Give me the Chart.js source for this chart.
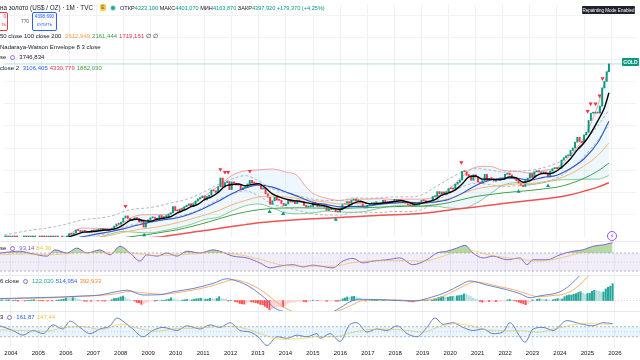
<!DOCTYPE html>
<html lang="ru">
<head>
<meta charset="utf-8">
<title>Золото 1M</title>
<script src="https://cdn.jsdelivr.net/npm/chart.js@4.4.1/dist/chart.umd.min.js"></script>
<style>
  body { margin: 0; background: #fff; }
  #wrap { position: relative; width: 640px; height: 360px; overflow: hidden; font-family: "Liberation Sans", Arial, sans-serif; color: #131722; }
  canvas { position: absolute; left: 0; }
  .t { position: absolute; white-space: nowrap; line-height: 8px; font-size: 6px; }
  .t span { margin-left: 2px; }
  .sep { position: absolute; left: 0; width: 640px; height: 1px; background: #e6e9ef; }
  .ico { display: inline-block; width: 3px; height: 3px; border: 1.2px solid #9c6ade; border-radius: 50%; vertical-align: -0.5px; margin: 0 2px 0 4px !important; }
  .box { position: absolute; border-radius: 2px; text-align: center; }
</style>
</head>
<body>
<div id="wrap">
  <canvas id="mainChart" width="640" height="241" style="top:0"></canvas>
  <canvas id="rsiChart" width="640" height="34" style="top:241px"></canvas>
  <canvas id="macdChart" width="640" height="36" style="top:275px"></canvas>
  <canvas id="cciChart" width="640" height="49" style="top:311px"></canvas>

  <div class="sep" style="top:241px"></div>
  <div class="sep" style="top:275px"></div>
  <div class="sep" style="top:311px"></div>

  <!-- header / legends -->
  <div class="t" style="left:0;top:4px;font-size:6.3px">на золото (US$ / OZ) · 1M · TVC</div>
  <div class="box" style="left:100px;top:4px;width:6px;height:7px;background:#f7cc4a;font-size:5px;line-height:7px;color:#6b5a12">E</div>
  <div class="box" style="left:111px;top:6px;width:4px;height:4px;border-radius:50%;background:#22ab94;box-shadow:0 0 0 1px #bfe8df"></div>
  <div class="t" style="left:120px;top:4px;font-size:5.6px">ОТКР<b style="font-weight:normal;color:#089981">4223,100</b> МАКС<b style="font-weight:normal;color:#089981">4401,070</b> МИН<b style="font-weight:normal;color:#089981">4163,870</b> ЗАКР<b style="font-weight:normal;color:#089981">4397,920</b> <b style="font-weight:normal;color:#089981">+179,370 (+4,25%)</b></div>

  <div class="box" style="left:-10px;top:12px;width:15px;height:17px;border:1px solid #f23645;color:#f23645;font-size:4.6px;line-height:8px;text-align:right;padding-right:1px">0<br>ть</div>
  <div class="t" style="left:21px;top:18px;font-size:4.8px;color:#50535e">770</div>
  <div class="box" style="left:32px;top:12px;width:23px;height:17px;border:1px solid #2962ff;color:#2962ff;font-size:4.6px;line-height:8px">4398,690<br><span style="font-size:4px">КУПИТЬ</span></div>

  <div class="t" style="left:0;top:32px">50 close 100 close 200 <span style="color:#f5a34b">2612,949</span><span style="color:#43a047">2161,444</span><span style="color:#f23645">1719,151</span><span>∅</span><span>∅</span></div>
  <div class="t" style="left:0;top:43px">Nadaraya-Watson Envelope 8 3 close</div>
  <div class="t" style="left:0;top:53px">se<span class="ico"></span><span>3746,834</span></div>
  <div class="t" style="left:0;top:64px">close 2 <span style="color:#2962ff">3106,405</span><span style="color:#f23645">4330,779</span><span style="color:#43a047">1882,030</span></div>

  <div class="box" style="left:582px;top:6px;width:53px;height:8px;background:#1e222d;color:#fff;line-height:8px;overflow:hidden;border-radius:1px">
    <div style="font-size:9px;transform:scale(0.5);transform-origin:0 0;width:106px;line-height:16px;white-space:nowrap">Repainting Mode Enabled</div>
  </div>
  <div class="box" style="left:622px;top:58px;width:17px;height:8px;background:#089981;color:#fff;overflow:hidden;border-radius:1px">
    <div style="font-size:10px;font-weight:bold;transform:scale(0.5);transform-origin:0 0;width:34px;line-height:16px">GOLD</div>
  </div>
  <div class="box" style="left:607px;top:231px;width:8px;height:8px;border:1px solid #9c4fd6;border-radius:50%;color:#9c4fd6;font-size:6px;line-height:8px;font-family:'DejaVu Sans'">⚡</div>

  <div class="t" style="left:0;top:244px">se<span class="ico"></span><span style="color:#7e57c2">93,14</span><span style="color:#e8c547">84,30</span></div>
  <div class="t" style="left:0;top:277px">6 close<span class="ico"></span><span style="color:#26a69a">122,020</span><span style="color:#2962ff">514,954</span><span style="color:#ff8c33">392,933</span></div>
  <div class="t" style="left:0;top:313px">3<span class="ico"></span><span style="color:#2962ff">161,87</span><span style="color:#e8c547">147,44</span></div>
</div>

<script>
// time window (decimal years) and tick labels
const xMin = 2003.6;
const xMax = 2026.915;
const yearTicks = [2004, 2005, 2006, 2007, 2008, 2009, 2010, 2011, 2012, 2013, 2014, 2015,
                   2016, 2017, 2018, 2019, 2020, 2021, 2022, 2023, 2024, 2025, 2026];
const priceTicks = [1000, 1500, 2000, 2500, 3000, 3500, 4000, 4500, 5000, 5500];
const firstMonth = 2003 + 7 / 12; // Aug 2003

// monthly closes, Aug 2003 .. Dec 2025
const closes = [
  375, 385, 384, 398, 416,
  400, 396, 427, 387, 394, 395, 391, 407, 416, 429, 453, 438,
  422, 435, 428, 436, 417, 435, 430, 433, 473, 470, 495, 517,
  569, 556, 582, 654, 643, 614, 633, 624, 598, 604, 647, 632,
  650, 665, 662, 679, 659, 650, 665, 673, 743, 789, 783, 834,
  923, 972, 916, 864, 886, 930, 912, 832, 880, 718, 814, 882,
  928, 942, 916, 884, 979, 927, 955, 955, 1008, 1040, 1181, 1096,
  1081, 1118, 1113, 1179, 1212, 1244, 1181, 1247, 1307, 1357, 1386, 1421,
  1333, 1410, 1439, 1556, 1536, 1500, 1628, 1826, 1620, 1722, 1746, 1565,
  1737, 1711, 1669, 1664, 1561, 1604, 1614, 1692, 1772, 1719, 1713, 1675,
  1664, 1578, 1596, 1472, 1393, 1234, 1312, 1395, 1327, 1323, 1253, 1202,
  1240, 1326, 1284, 1296, 1250, 1327, 1282, 1287, 1210, 1171, 1183, 1184,
  1283, 1213, 1183, 1184, 1190, 1172, 1095, 1133, 1115, 1142, 1065, 1061,
  1118, 1238, 1234, 1294, 1215, 1322, 1351, 1309, 1316, 1276, 1173, 1151,
  1211, 1249, 1249, 1268, 1268, 1242, 1269, 1322, 1280, 1271, 1275, 1303,
  1345, 1318, 1325, 1315, 1299, 1253, 1224, 1201, 1192, 1215, 1222, 1282,
  1321, 1313, 1292, 1284, 1305, 1409, 1413, 1520, 1472, 1513, 1464, 1517,
  1589, 1585, 1577, 1687, 1730, 1781, 1975, 1968, 1886, 1879, 1776, 1898,
  1847, 1734, 1708, 1769, 1907, 1770, 1814, 1813, 1757, 1783, 1774, 1829,
  1797, 1909, 1937, 1897, 1837, 1807, 1766, 1711, 1660, 1633, 1768, 1824,
  1928, 1837, 1969, 1990, 1963, 1919, 1965, 1940, 1849, 1983, 2036, 2063,
  2039, 2044, 2230, 2286, 2327, 2327, 2448, 2503, 2635, 2744, 2651, 2625,
  2798, 2858, 3124, 3289, 3289, 3303, 3290, 3448, 3858, 4003, 4223, 4398
];
const firstOpen = 372;
const lastClose = 4397.92;

// overlay lines: [year, price]
const fastLine = [[2005.5,430],[2005.75,455],[2006,500],[2006.25,550],[2006.5,600],[2006.75,615],[2007,625],[2007.25,648],[2007.5,660],[2007.75,690],[2008,770],[2008.25,870],[2008.5,895],[2008.75,865],[2009,850],[2009.25,895],[2009.5,920],[2009.75,955],[2010,1040],[2010.25,1100],[2010.5,1180],[2010.75,1230],[2011,1340],[2011.25,1400],[2011.5,1500],[2011.75,1640],[2012,1680],[2012.25,1690],[2012.5,1650],[2012.75,1680],[2013,1700],[2013.25,1600],[2013.5,1470],[2013.75,1400],[2014,1350],[2014.25,1320],[2014.5,1300],[2014.75,1270],[2015,1240],[2015.25,1220],[2015.5,1190],[2015.75,1140],[2016,1115],[2016.25,1180],[2016.5,1260],[2016.75,1300],[2017,1255],[2017.25,1240],[2017.5,1255],[2017.75,1275],[2018,1295],[2018.25,1315],[2018.5,1285],[2018.75,1235],[2019,1255],[2019.25,1295],[2019.5,1340],[2019.75,1440],[2020,1490],[2020.25,1560],[2020.5,1690],[2020.75,1850],[2021,1870],[2021.25,1800],[2021.5,1800],[2021.75,1790],[2022,1795],[2022.25,1850],[2022.5,1830],[2022.75,1730],[2023,1760],[2023.25,1880],[2023.5,1930],[2023.75,1925],[2024,1990],[2024.25,2110],[2024.5,2260],[2024.75,2460],[2025,2620],[2025.25,2840],[2025.5,3110],[2025.75,3410],[2025.917,3747]];
const bbBasis = [[2005.5,420],[2006,450],[2006.5,500],[2007,560],[2007.5,615],[2008,680],[2008.5,760],[2009,835],[2009.5,885],[2010,930],[2010.5,1020],[2011,1150],[2011.5,1300],[2012,1470],[2012.5,1600],[2013,1670],[2013.5,1620],[2014,1510],[2014.5,1400],[2015,1275],[2015.5,1230],[2016,1175],[2016.5,1185],[2017,1195],[2017.5,1235],[2018,1265],[2018.5,1280],[2019,1265],[2019.5,1285],[2020,1340],[2020.5,1480],[2021,1660],[2021.5,1770],[2022,1820],[2022.5,1820],[2023,1780],[2023.5,1840],[2024,1890],[2024.5,2040],[2025,2260],[2025.5,2620],[2025.917,3106]];
const bbUpper = [[2006,560],[2006.5,700],[2007,690],[2007.5,690],[2008,820],[2008.5,980],[2009,1000],[2009.5,1000],[2010,1110],[2010.5,1240],[2011,1420],[2011.5,1640],[2012,1880],[2012.5,1990],[2013,2010],[2013.5,2030],[2014,1960],[2014.4,1890],[2014.75,1620],[2015,1480],[2015.5,1370],[2016,1320],[2016.5,1350],[2017,1350],[2017.5,1360],[2018,1340],[2018.5,1350],[2019,1350],[2019.5,1400],[2020,1560],[2020.5,1860],[2021,2070],[2021.5,2090],[2022,2000],[2022.5,1980],[2023,1940],[2023.5,2000],[2024,2060],[2024.5,2350],[2025,2750],[2025.5,3450],[2025.917,4331]];
const bbLower = [[2006,380],[2006.5,440],[2007,470],[2007.5,560],[2008,620],[2008.5,600],[2009,590],[2009.5,640],[2010,700],[2010.5,780],[2011,890],[2011.5,940],[2012,1080],[2012.5,1200],[2012.75,1230],[2013,1240],[2013.5,1150],[2014,1040],[2014.5,1020],[2015,1040],[2015.5,1080],[2016,1060],[2016.5,1050],[2017,1080],[2017.5,1150],[2018,1200],[2018.5,1210],[2019,1180],[2019.5,1190],[2020,1150],[2020.5,1140],[2021,1250],[2021.5,1450],[2022,1660],[2022.5,1720],[2023,1680],[2023.5,1720],[2024,1780],[2024.5,1790],[2025,1800],[2025.5,1800],[2025.917,1882]];
const ema50 = [[2007,480],[2007.5,530],[2008,600],[2008.5,660],[2009,700],[2009.5,750],[2010,820],[2010.5,900],[2011,990],[2011.5,1090],[2012,1220],[2012.5,1320],[2013,1400],[2013.5,1420],[2014,1400],[2014.5,1360],[2015,1320],[2015.5,1280],[2016,1240],[2016.5,1250],[2017,1250],[2017.5,1250],[2018,1255],[2018.5,1260],[2019,1255],[2019.5,1290],[2020,1360],[2020.5,1470],[2021,1580],[2021.5,1630],[2022,1665],[2022.5,1690],[2023,1700],[2023.5,1740],[2024,1800],[2024.5,1920],[2025,2100],[2025.5,2330],[2025.917,2613]];
const ema100 = [[2008,480],[2008.5,520],[2009,560],[2009.5,610],[2010,660],[2010.5,730],[2011,810],[2011.5,900],[2012,990],[2012.5,1060],[2013,1110],[2013.5,1140],[2014,1150],[2014.5,1155],[2015,1150],[2015.5,1145],[2016,1140],[2016.5,1150],[2017,1160],[2017.5,1170],[2018,1180],[2018.5,1190],[2019,1195],[2019.5,1220],[2020,1270],[2020.5,1340],[2021,1410],[2021.5,1450],[2022,1490],[2022.5,1520],[2023,1545],[2023.5,1580],[2024,1620],[2024.5,1700],[2025,1820],[2025.5,1980],[2025.917,2161]];
const ema200 = [[2009,480],[2009.5,510],[2010,555],[2010.5,600],[2011,640],[2011.5,690],[2012,735],[2012.5,775],[2013,815],[2013.5,845],[2014,870],[2014.5,890],[2015,905],[2015.5,920],[2016,935],[2016.5,955],[2017,970],[2017.5,985],[2018,995],[2018.5,1010],[2019,1025],[2019.5,1060],[2020,1100],[2020.5,1140],[2021,1175],[2021.5,1210],[2022,1250],[2022.5,1285],[2023,1320],[2023.5,1355],[2024,1390],[2024.5,1450],[2025,1530],[2025.5,1620],[2025.917,1719]];
const nwUpper = [[2003.6,540],[2004.5,640],[2005.5,730],[2006.5,880],[2007.5,960],[2008.25,1110],[2009,1160],[2009.75,1260],[2010.5,1380],[2011,1520],[2011.5,1680],[2012,1800],[2012.5,1880],[2013,1760],[2013.5,1580],[2014,1500],[2014.5,1420],[2015,1350],[2015.5,1320],[2016,1320],[2016.5,1380],[2017,1370],[2017.5,1380],[2018,1400],[2018.5,1400],[2019,1440],[2019.5,1620],[2020,1800],[2020.5,1960],[2021,2040],[2021.5,2010],[2022,1960],[2022.5,1980],[2023,2000],[2023.5,2060],[2024,2160],[2024.5,2350],[2025,2640],[2025.5,3000],[2025.917,3360]];
const nwLower = [[2006.5,420],[2007,510],[2007.5,600],[2008.25,760],[2009,820],[2009.75,920],[2010.5,1040],[2011,1180],[2011.5,1340],[2012,1460],[2012.5,1540],[2013,1420],[2013.5,1240],[2014,1160],[2014.5,1090],[2015,1020],[2015.5,990],[2016,990],[2016.5,1050],[2017,1040],[2017.5,1050],[2018,1070],[2018.5,1070],[2019,1110],[2019.5,1290],[2020,1470],[2020.5,1630],[2021,1710],[2021.5,1680],[2022,1630],[2022.5,1650],[2023,1670],[2023.5,1730],[2024,1830],[2024.5,2020],[2025,2310],[2025.5,2670],[2025.917,3030]];
const sellSignals = [[2008.08,1190],[2011.58,2020],[2011.75,1960],[2011.87,1960],[2012.67,1980],[2020.47,2175],[2025.13,3330],[2025.24,3500],[2025.42,3500],[2025.57,3680],[2025.68,4070]];
const buySignals = [[2008.77,540],[2013.4,1065],[2013.9,1020],[2015.84,890],[2022.58,1520],[2023.67,1650]];

// RSI
const rsiBands = [70, 50, 30];
const rsiLine = [[2003.6,70],[2004.33,74],[2004.8,68],[2005.31,63],[2005.6,77],[2006.04,70],[2006.4,81],[2006.77,70],[2007.24,77],[2007.61,66],[2007.97,85],[2008.34,70],[2008.7,52],[2008.95,66],[2009.32,63],[2009.68,70],[2010.05,63],[2010.41,74],[2010.89,70],[2011.36,77],[2011.61,74],[2012.09,63],[2012.6,59],[2013.07,48],[2013.44,37],[2013.8,41],[2014.27,44],[2014.64,39],[2015,43],[2015.26,41],[2015.73,37],[2016.09,52],[2016.46,58],[2016.82,48],[2017.19,52],[2017.7,55],[2018.17,59],[2018.64,44],[2019.15,55],[2019.52,70],[2019.88,74],[2020.25,81],[2020.54,87],[2020.83,70],[2021.2,59],[2021.56,63],[2022.07,55],[2022.54,59],[2022.8,44],[2023.02,55],[2023.53,55],[2024,66],[2024.47,74],[2024.84,77],[2025.2,85],[2025.57,88],[2025.917,93.14]];
const rsiMa = [[2003.6,66],[2004.5,68],[2005.3,66],[2006,68],[2006.6,72],[2007.3,71],[2008,73],[2008.7,68],[2009.3,64],[2010,66],[2010.7,68],[2011.4,72],[2012,69],[2012.6,63],[2013.2,54],[2013.8,44],[2014.5,41],[2015.2,41],[2015.8,41],[2016.4,48],[2017,52],[2017.7,53],[2018.4,53],[2019,52],[2019.6,60],[2020.2,72],[2020.8,75],[2021.4,66],[2022,60],[2022.6,56],[2023.2,52],[2023.8,56],[2024.4,65],[2025,74],[2025.5,80],[2025.917,84.3]];

// MACD
const macdLine = [[2003.6,14],[2004.8,20],[2006.04,27],[2006.5,32],[2007.24,40],[2007.61,55],[2008.23,75],[2008.81,40],[2009.43,42],[2009.9,63],[2010.63,87],[2011.36,124],[2011.87,158],[2012.09,150],[2012.6,111],[2012.96,63],[2013.33,2],[2013.54,-46],[2013.91,-78],[2014.5,-90],[2015.5,-95],[2015.99,-53],[2016.35,-9],[2016.71,9],[2017.7,4],[2018.64,-4],[2019.37,27],[2019.88,63],[2020.36,111],[2020.72,142],[2021.34,112],[2022.07,78],[2022.54,50],[2022.91,20],[2023.27,34],[2024,63],[2024.36,111],[2024.73,184],[2025,250],[2025.5,400],[2025.917,515]];
const macdSignal = [[2003.6,12],[2004.5,16],[2005.5,20],[2006.3,28],[2007,34],[2007.7,45],[2008.3,65],[2008.9,55],[2009.5,45],[2010,55],[2010.6,75],[2011.2,100],[2011.7,130],[2012.1,150],[2012.5,135],[2012.9,100],[2013.3,50],[2013.6,0],[2014,-55],[2014.4,-85],[2015.5,-85],[2016,-70],[2016.4,-35],[2016.8,0],[2017.3,6],[2018,4],[2018.7,0],[2019.2,5],[2019.6,20],[2020,55],[2020.5,105],[2020.9,135],[2021.3,125],[2021.8,100],[2022.3,80],[2022.8,48],[2023.2,28],[2023.7,35],[2024.2,50],[2024.6,95],[2025,170],[2025.5,290],[2025.917,393]];
const macdHist = [
  3, 4, 2, 3, 5,
  2, -2, 3, -4, -3, -2, -3, 1, 2, 4, 6, 3,
  -1, -2, -3, -2, -4, -2, -3, -3, 3, 4, 7, 10,
  16, 15, 14, 22, 20, 10, 6, 2, -4, -6, -3, -5,
  -4, -2, -3, -1, -3, -5, -3, -2, 6, 14, 16, 20,
  26, 32, 22, 8, 2, 0, -4, -14, -16, -28, -24, -16,
  -8, -2, -2, -4, 2, 0, 1, 2, 6, 10, 20, 12,
  6, 4, 2, 4, 6, 8, 2, 4, 8, 12, 14, 16,
  8, 10, 10, 16, 14, 10, 14, 28, 14, 12, 10, -4,
  2, 0, -8, -12, -22, -24, -26, -18, -8, -10, -12, -16,
  -20, -28, -30, -42, -52, -68, -62, -52, -50, -45, -44, -46,
  -34, -20, -16, -12, -12, -6, -6, -5, -8, -10, -8, -6,
  2, 0, -2, -2, -2, -2, -6, -4, -4, -2, -5, -6,
  0, 12, 18, 26, 22, 28, 30, 24, 20, 12, 2, -4,
  -2, 0, 1, 2, 2, 0, 0, 3, 2, 1, 0, 1,
  4, 3, 3, 2, 0, -3, -6, -9, -10, -9, -8, -4,
  0, 2, 2, 1, 2, 10, 14, 24, 26, 28, 24, 24,
  28, 30, 28, 34, 36, 38, 48, 46, 36, 28, 16, 12,
  6, -6, -12, -12, -4, -8, -6, -6, -8, -8, -6, -2,
  -2, 4, 8, 4, -2, -6, -12, -18, -24, -30, -20, -10,
  4, 0, 8, 12, 10, 6, 6, 4, 0, 6, 10, 14,
  12, 12, 28, 36, 40, 40, 46, 50, 58, 64, 54, 44,
  50, 52, 66, 74, 72, 68, 60, 62, 84, 96, 104, 122
];

// CCI
const cciBands = [100, 0, -100];
const cciLine = [[2003.6,118],[2004.07,24],[2004.44,-69],[2004.8,24],[2005.17,-39],[2005.53,136],[2005.89,54],[2006.15,211],[2006.51,86],[2006.88,-39],[2007.24,54],[2007.61,118],[2007.86,273],[2008.08,211],[2008.44,54],[2008.81,-101],[2009.17,24],[2009.54,86],[2010.05,24],[2010.41,118],[2010.89,54],[2011.25,136],[2011.61,86],[2011.98,180],[2012.34,24],[2012.71,-7],[2013,-101],[2013.33,-275],[2013.69,-101],[2014.05,-133],[2014.42,-69],[2014.78,-101],[2015.15,-39],[2015.26,-133],[2015.62,-39],[2015.99,-194],[2016.35,148],[2016.6,180],[2016.97,-7],[2017.33,54],[2017.7,24],[2018.06,118],[2018.43,-39],[2018.79,-101],[2019.15,86],[2019.45,273],[2019.74,148],[2020.1,180],[2020.47,86],[2020.83,24],[2021.2,54],[2021.56,-39],[2021.92,-7],[2022.18,180],[2022.54,-101],[2022.72,-213],[2023.02,54],[2023.38,86],[2023.75,24],[2024.25,222],[2024.73,161],[2025.2,118],[2025.57,180],[2025.917,162]];
const cciMa = [[2003.6,40],[2004.5,20],[2005.3,10],[2006,90],[2006.6,100],[2007.3,40],[2008,150],[2008.7,60],[2009.3,10],[2010,60],[2010.7,70],[2011.4,100],[2012,110],[2012.6,50],[2013.2,-60],[2013.8,-150],[2014.5,-140],[2015.2,-100],[2015.8,-100],[2016.4,-20],[2017,40],[2017.7,50],[2018.4,30],[2019,-10],[2019.6,100],[2020.2,160],[2020.8,110],[2021.4,30],[2022,20],[2022.6,20],[2023.2,-10],[2023.8,60],[2024.4,130],[2025,170],[2025.5,150],[2025.917,147.4]];

function pts(arr) {
    return arr.map(function (p) { return { x: p[0], y: p[1] }; });
}
function flat(v) {
    return [{ x: xMin, y: v }, { x: xMax, y: v }];
}
function line(data, color, width, extra) {
    return Object.assign({
        type: 'line', data: data, borderColor: color, borderWidth: width,
        pointRadius: 0, fill: false, tension: 0.35, cubicInterpolationMode: 'monotone'
    }, extra || {});
}

function paneOptions(yMin, yMax, showTime) {
    return {
        responsive: false,
        animation: false,
        events: [],
        layout: { padding: 0 },
        plugins: { legend: { display: false }, tooltip: { enabled: false } },
        scales: {
            x: {
                type: 'linear', min: xMin, max: xMax, offset: false,
                grid: { color: '#eef1f6', drawTicks: false, offset: false },
                border: { display: false },
                afterBuildTicks: function (s) { s.ticks = yearTicks.map(function (v) { return { value: v }; }); },
                afterFit: function (s) { s.height = showTime ? 13 : 0; },
                ticks: {
                    display: showTime, autoSkip: false, maxRotation: 0, padding: 3,
                    color: '#131722', font: { size: 6, family: 'Liberation Sans' },
                    callback: function (v) { return String(v); }
                }
            },
            y: {
                min: yMin, max: yMax, position: 'right',
                grid: { display: false },
                ticks: { display: false },
                border: { display: false },
                afterFit: function (s) { s.width = 0; }
            }
        }
    };
}

// Main price pane
var opens = closes.map(function (c, i) { return i ? closes[i - 1] : firstOpen; });
var candles = closes.map(function (c, i) { return { x: firstMonth + i / 12, y: [opens[i], c] }; });
var candleColors = closes.map(function (c, i) { return c >= opens[i] ? '#089981' : '#f23645'; });

var mainOpts = paneOptions(496, 5750, false);
mainOpts.scales.y.grid = { display: true, color: '#f1f3f7', drawTicks: false };
mainOpts.scales.y.afterBuildTicks = function (s) { s.ticks = priceTicks.map(function (v) { return { value: v }; }); };

new Chart(document.getElementById('mainChart'), {
    type: 'line',
    data: {
        datasets: [
            line(pts(bbUpper), '#f28b8b', 0.8, { fill: '+1', backgroundColor: 'rgba(33,150,243,0.08)', order: 10 }),
            line(pts(bbLower), '#6cc17a', 0.8, { order: 10 }),
            line(pts(nwUpper), '#a3a6af', 0.8, { borderDash: [3, 2], order: 9 }),
            line(pts(nwLower), '#a3a6af', 0.8, { borderDash: [3, 2], order: 9 }),
            line(flat(lastClose), 'rgba(8,153,129,0.3)', 1, { order: 8 }),
            {
                type: 'bar', data: candles, backgroundColor: candleColors,
                barThickness: 1.3, minBarLength: 1, order: 5
            },
            line(pts(ema200), '#ef5350', 1.5, { order: 4 }),
            line(pts(ema100), '#43a047', 1, { order: 4 }),
            line(pts(ema50), '#f5b575', 1, { order: 4 }),
            line(pts(bbBasis), '#2f55c9', 1.1, { order: 3 }),
            line(pts(fastLine), '#000000', 1.4, { order: 2 }),
            line(pts(sellSignals), '#f23645', 0, {
                showLine: false, pointStyle: 'triangle', rotation: 180,
                pointRadius: 2.4, pointBackgroundColor: '#f23645', pointBorderWidth: 0, order: 1
            }),
            line(pts(buySignals), '#089981', 0, {
                showLine: false, pointStyle: 'triangle',
                pointRadius: 2.4, pointBackgroundColor: '#089981', pointBorderWidth: 0, order: 1
            })
        ]
    },
    options: mainOpts
});

// RSI pane
new Chart(document.getElementById('rsiChart'), {
    type: 'line',
    data: {
        datasets: [
            line(flat(rsiBands[0]), '#9598a1', 0.7, { borderDash: [2, 2], fill: '+1', backgroundColor: 'rgba(126,87,194,0.1)' }),
            line(flat(rsiBands[2]), '#9598a1', 0.7, { borderDash: [2, 2] }),
            line(flat(rsiBands[1]), 'rgba(149,152,161,0.5)', 0.7, { borderDash: [1, 2] }),
            line(pts(rsiMa), 'rgba(240,200,60,0.7)', 0.9),
            line(pts(rsiLine), '#7e57c2', 0.9, {
                tension: 0,
                fill: { target: { value: 70 }, above: 'rgba(76,175,80,0.45)', below: 'rgba(0,0,0,0)' }
            })
        ]
    },
    options: paneOptions(21.1, 96.7, false)
});

// MACD pane
var histColors = macdHist.map(function (h, i) {
    var prev = i ? macdHist[i - 1] : 0;
    if (h >= 0) return h >= prev ? '#26a69a' : '#b2dfdb';
    return h < prev ? '#ff5252' : '#ffcdd2';
});
new Chart(document.getElementById('macdChart'), {
    type: 'line',
    data: {
        datasets: [
            line(flat(0), 'rgba(149,152,161,0.6)', 0.7, { borderDash: [1, 2], order: 5 }),
            {
                type: 'bar',
                data: macdHist.map(function (h, i) { return { x: firstMonth + i / 12, y: h }; }),
                backgroundColor: histColors, barThickness: 1.4, order: 4
            },
            line(pts(macdSignal), '#f7a663', 0.9, { order: 2 }),
            line(pts(macdLine), '#5a78c8', 0.9, { order: 1 })
        ]
    },
    options: paneOptions(-76, 185, false)
});

// CCI pane with time axis
new Chart(document.getElementById('cciChart'), {
    type: 'line',
    data: {
        datasets: [
            line(flat(cciBands[0]), '#9598a1', 0.7, { borderDash: [2, 2], fill: '+1', backgroundColor: 'rgba(33,150,243,0.1)' }),
            line(flat(cciBands[2]), '#9598a1', 0.7, { borderDash: [2, 2] }),
            line(flat(cciBands[1]), 'rgba(149,152,161,0.5)', 0.7, { borderDash: [1, 2] }),
            line(pts(cciMa), 'rgba(240,200,60,0.7)', 0.9),
            line(pts(cciLine), '#5470c0', 0.9, { tension: 0 })
        ]
    },
    options: paneOptions(-306, 414, true)
});
</script>
</body>
</html>
